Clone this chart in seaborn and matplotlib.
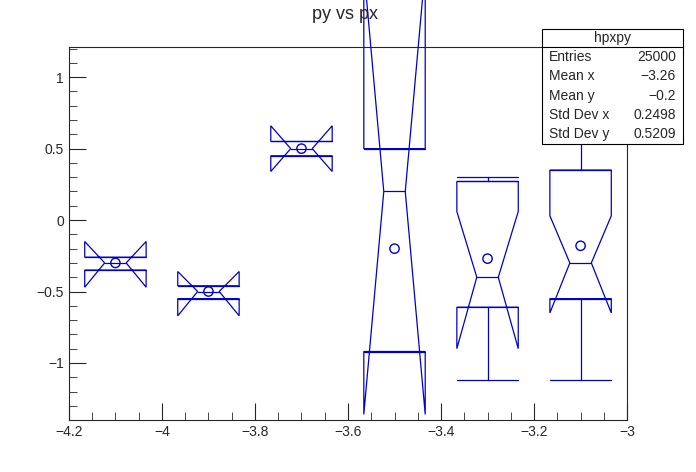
import numpy as np
import pandas as pd
import matplotlib.pyplot as plt
from matplotlib.ticker import MultipleLocator
from matplotlib.patches import Polygon
import seaborn as sns

# candle values
px = [-4.1, -3.9, -3.7, -3.5, -3.3, -3.1]
q1 = [-0.35, -0.55, 0.45, -0.92, -0.61, -0.55]
median = [-0.30, -0.50, 0.50, 0.20, -0.40, -0.30]
q3 = [-0.26, -0.46, 0.55, 0.50, 0.27, 0.35]
notch_lo = [-0.47, -0.67, 0.34, -1.36, -0.90, -0.65]
notch_hi = [-0.15, -0.36, 0.66, 1.76, 0.06, 0.03]
whisk_lo = [None, None, None, None, -1.12, -1.12]
whisk_hi = [None, None, None, None, 0.30, 0.55]
mean_py = [-0.30, -0.50, 0.50, -0.20, -0.27, -0.18]

stats = [("Entries", "25000"), ("Mean x", "\u22123.26"), ("Mean y", "\u22120.2"),
         ("Std Dev x", "0.2498"), ("Std Dev y", "0.5209")]

sns.set_style("ticks")
plt.rcParams['font.family'] = ['Liberation Sans', 'DejaVu Sans']
fig = plt.figure(figsize=(6.96, 4.72), dpi=100)
ax = fig.add_axes([0.099, 0.110, 0.802, 0.790])
col = "#0000cc"
w, f = 0.066, 0.35

for i, x in enumerate(px):
    pts = [(x - w, q3[i]), (x - w, notch_hi[i]), (x - w * f, median[i]), (x - w, notch_lo[i]),
           (x - w, q1[i]), (x + w, q1[i]), (x + w, notch_lo[i]), (x + w * f, median[i]),
           (x + w, notch_hi[i]), (x + w, q3[i])]
    ax.add_patch(Polygon(pts, closed=True, fill=False, ec=col, lw=0.9, clip_on=False))
    ax.plot([x - w * f, x + w * f], [median[i]] * 2, color=col, lw=0.9, clip_on=False)
    for yv in (q1[i], q3[i]):
        ax.plot([x - w, x + w], [yv, yv], color=col, lw=0.9, clip_on=False)
    if whisk_lo[i] is not None:
        ax.plot([x, x], [whisk_lo[i], q1[i]], color=col, lw=0.9)
        ax.plot([x - w, x + w], [whisk_lo[i]] * 2, color=col, lw=0.9)
        ax.plot([x, x], [q3[i], whisk_hi[i]], color=col, lw=0.9)
        ax.plot([x - w, x + w], [whisk_hi[i]] * 2, color=col, lw=0.9)

df = pd.DataFrame({"px": px, "py": mean_py})
sns.scatterplot(data=df, x="px", y="py", ax=ax, marker="o", s=45,
                facecolor="none", edgecolor=col, linewidth=1, zorder=5)

ax.set_xlim(-4.2, -3.0)
ax.set_ylim(-1.40, 1.21)
ax.set_xlabel("")
ax.set_ylabel("")
ax.xaxis.set_major_locator(MultipleLocator(0.2))
ax.xaxis.set_minor_locator(MultipleLocator(0.05))
ax.yaxis.set_major_locator(MultipleLocator(0.5))
ax.yaxis.set_minor_locator(MultipleLocator(0.1))
ax.tick_params(which="both", direction="in", top=False, right=False, labelsize=10)
ax.tick_params(which="major", length=12)
ax.tick_params(which="minor", length=6)
ax.xaxis.set_major_formatter(plt.FuncFormatter(lambda v, p: f"{v:g}".replace("-", "\u2212")))
ax.yaxis.set_major_formatter(plt.FuncFormatter(lambda v, p: f"{v:g}".replace("-", "\u2212")))
for s in ax.spines.values():
    s.set_linewidth(0.8)

fig.text(0.496, 0.97, "py vs px", ha="center", va="center", fontsize=13)

# stats box
bx0, bx1, by0, by1 = 542 / 696, 683 / 696, 1 - 144 / 472, 1 - 29 / 472
fig.add_artist(plt.Rectangle((bx0, by0), bx1 - bx0, by1 - by0, transform=fig.transFigure,
                             fill=True, fc="white", ec="black", lw=0.8, zorder=10))
hl = 1 - 47 / 472
fig.add_artist(plt.Line2D([bx0, bx1], [hl, hl], transform=fig.transFigure, color="black", lw=0.8, zorder=11))
fig.text((bx0 + bx1) / 2, (hl + by1) / 2, "hpxpy", ha="center", va="center", fontsize=10, zorder=12)
rh = (hl - by0) / len(stats)
for k, (lab, val) in enumerate(stats):
    yy = hl - rh * (k + 0.5)
    fig.text(bx0 + 0.01, yy, lab, ha="left", va="center", fontsize=10, zorder=12)
    fig.text(bx1 - 0.01, yy, val, ha="right", va="center", fontsize=10, zorder=12)

fig.savefig("out.png", dpi=100)
